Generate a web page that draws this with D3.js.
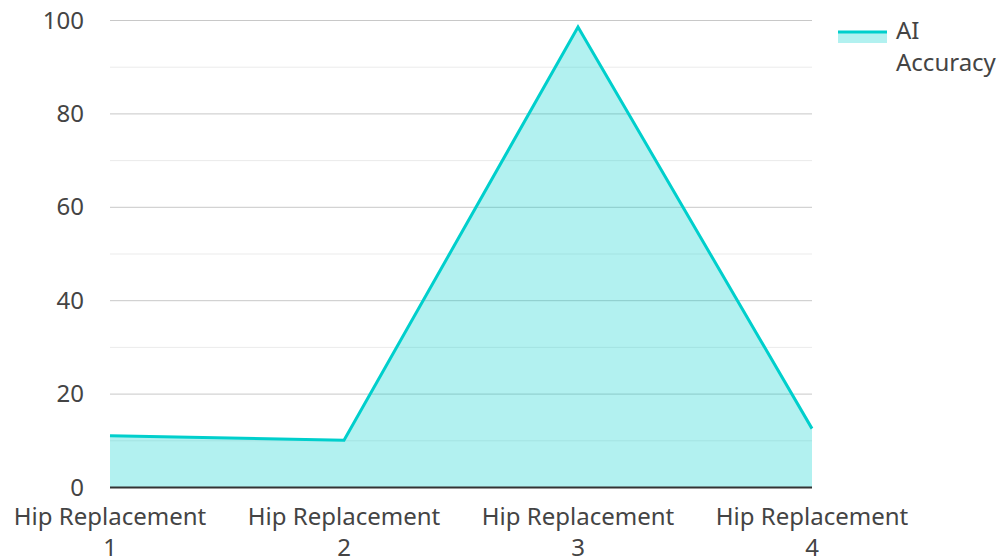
<!DOCTYPE html>
<html>
<head>
<meta charset="utf-8">
<script src="https://cdn.jsdelivr.net/npm/d3@7"></script>
<style>
  body { margin: 0; background: #fff; }
  text { font-family: "Noto Sans", "Open Sans", sans-serif; fill: #444; }
</style>
</head>
<body>
<div id="chart"></div>
<script>
  var categories = ["Hip Replacement 1", "Hip Replacement 2", "Hip Replacement 3", "Hip Replacement 4"];
  var accuracy = [11, 10, 98.5, 12.5];
  var yTicks = [0, 20, 40, 60, 80, 100];
  var minorTicks = [10, 30, 50, 70, 90];
  var seriesName = ["AI", "Accuracy"];

  var width = 1002;
  var height = 558;
  var color = "#00cfcc";

  var svg = d3
    .select("#chart")
    .append("svg")
    .attr("width", width)
    .attr("height", height);

  var x = d3.scalePoint().domain(categories).range([110, 812]);
  var y = d3.scaleLinear().domain([0, 100]).range([487, 20]);

  // grid
  svg.append("g")
    .selectAll("line")
    .data(minorTicks)
    .enter()
    .append("line")
    .attr("x1", 110).attr("x2", 812)
    .attr("y1", function(d) { return y(d) + 0.5; })
    .attr("y2", function(d) { return y(d) + 0.5; })
    .attr("stroke", "#ebebeb")
    .attr("stroke-width", 1);

  svg.append("g")
    .selectAll("line")
    .data(yTicks.filter(function(d) { return d > 0; }))
    .enter()
    .append("line")
    .attr("x1", 110).attr("x2", 812)
    .attr("y1", function(d) { return y(d) + 0.5; })
    .attr("y2", function(d) { return y(d) + 0.5; })
    .attr("stroke", "#c8c8c8")
    .attr("stroke-width", 1);

  var area = d3.area()
    .x(function(d, i) { return x(categories[i]); })
    .y0(y(0))
    .y1(function(d) { return y(d); });

  var line = d3.line()
    .x(function(d, i) { return x(categories[i]); })
    .y(function(d) { return y(d); });

  svg.append("path")
    .datum(accuracy)
    .attr("d", area)
    .attr("fill", color)
    .attr("fill-opacity", 0.3);

  svg.append("path")
    .datum(accuracy)
    .attr("d", line)
    .attr("fill", "none")
    .attr("stroke", color)
    .attr("stroke-width", 3);

  // baseline
  svg.append("line")
    .attr("x1", 110).attr("x2", 812)
    .attr("y1", y(0) + 0.5).attr("y2", y(0) + 0.5)
    .attr("stroke", "#333")
    .attr("stroke-width", 2);

  // y labels
  svg.append("g")
    .selectAll("text")
    .data(yTicks)
    .enter()
    .append("text")
    .attr("x", 84)
    .attr("y", function(d) { return y(d) + 8.5; })
    .attr("text-anchor", "end")
    .style("font-size", "24px")
    .text(function(d) { return d; });

  // x labels, two lines each
  var xl = svg.append("g")
    .selectAll("text")
    .data(categories)
    .enter()
    .append("text")
    .attr("text-anchor", "middle")
    .style("font-size", "24px");

  xl.append("tspan")
    .attr("x", function(d) { return x(d); })
    .attr("y", 525)
    .text(function(d) { return d.replace(/ \d+$/, ""); });

  xl.append("tspan")
    .attr("x", function(d) { return x(d); })
    .attr("y", 556)
    .text(function(d) { return d.match(/\d+$/)[0]; });

  // legend
  var lg = svg.append("g");
  lg.append("rect")
    .attr("x", 838).attr("y", 31)
    .attr("width", 49).attr("height", 12)
    .attr("fill", color).attr("fill-opacity", 0.3);
  lg.append("line")
    .attr("x1", 838).attr("x2", 887)
    .attr("y1", 32).attr("y2", 32)
    .attr("stroke", color).attr("stroke-width", 3);
  lg.selectAll("text")
    .data(seriesName)
    .enter()
    .append("text")
    .attr("x", 896)
    .attr("y", function(d, i) { return 39 + i * 32; })
    .style("font-size", "24px")
    .text(function(d) { return d; });
</script>
</body>
</html>
